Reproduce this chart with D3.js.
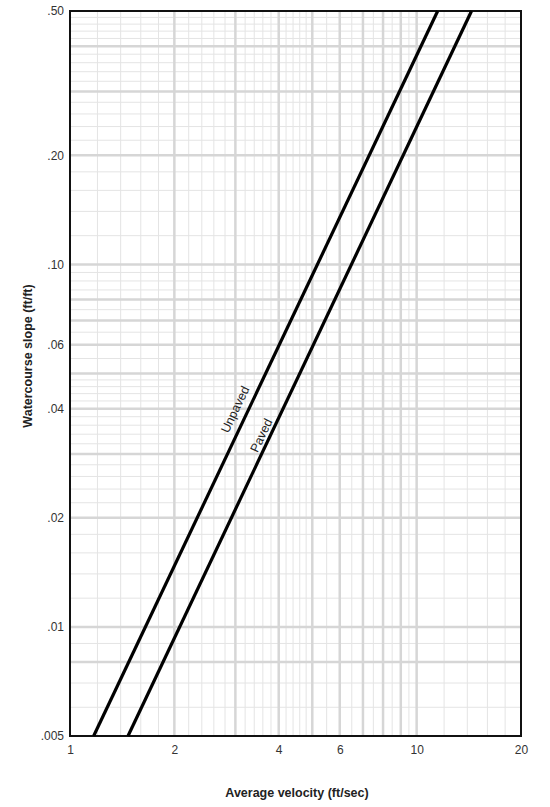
<!DOCTYPE html>
<html>
<head>
<meta charset="utf-8">
<script src="https://cdn.jsdelivr.net/npm/d3@7"></script>
<style>
    body { margin: 0; background: white; }
    text { font-family: Helvetica, Arial, 'Liberation Sans', sans-serif; }
</style>
</head>
<body>
<div class="chart"></div>
<script>
// values
const slopeEnds = [0.005, 0.5]
const unpavedVelocity = [1.17, 11.5]
const pavedVelocity = [1.47, 14.4]

const xTickValues = [1, 2, 4, 6, 10, 20]
const yTickValues = [0.5, 0.2, 0.1, 0.06, 0.04, 0.02, 0.01, 0.005]
const yTickLabels = ['.50', '.20', '.10', '.06', '.04', '.02', '.01', '.005']

// graph paper rulings
const xMinorGrid = [...d3.range(1.2, 1.99, 0.2), ...d3.range(2.2, 4.99, 0.2),
    ...d3.range(5.5, 9.99, 0.5), ...d3.range(12, 19.9, 2)]
const xMajorGrid = [2, 3, 4, 5, 6, 7, 8, 9, 10]
const yMinorGrid = [...d3.range(0.006, 0.00999, 0.001), ...d3.range(0.012, 0.0499, 0.002),
    ...d3.range(0.055, 0.0999, 0.005), ...d3.range(0.12, 0.499, 0.02)]
const yMajorGrid = [0.008, 0.01, 0.02, 0.03, 0.04, 0.05, 0.06, 0.07, 0.08, 0.1, 0.2, 0.3, 0.4]

const svg = d3.select('.chart')
    .append('svg')
        .attr('width', 550)
        .attr('height', 807)

const x = d3.scaleLog().domain([1, 20]).range([70, 521])
const y = d3.scaleLog().domain([0.005, 0.5]).range([736, 11])

const grid = svg.append('g').attr('id', 'grid')

const drawGrid = (xs, ys, color, width) => {
    grid.append('g').selectAll('line')
        .data(xs)
        .enter()
        .append('line')
            .attr('x1', (d) => x(d))
            .attr('x2', (d) => x(d))
            .attr('y1', y.range()[0])
            .attr('y2', y.range()[1])
            .style('stroke', color)
            .style('stroke-width', width)
    grid.append('g').selectAll('line')
        .data(ys)
        .enter()
        .append('line')
            .attr('y1', (d) => y(d))
            .attr('y2', (d) => y(d))
            .attr('x1', x.range()[0])
            .attr('x2', x.range()[1])
            .style('stroke', color)
            .style('stroke-width', width)
}
drawGrid(xMinorGrid, yMinorGrid, '#e4e4e4', 1)
drawGrid(xMajorGrid, yMajorGrid, '#d6d6d6', 2.5)

// frame
svg.append('rect')
    .attr('x', x.range()[0])
    .attr('y', y.range()[1])
    .attr('width', x.range()[1] - x.range()[0])
    .attr('height', y.range()[0] - y.range()[1])
    .style('fill', 'none')
    .style('stroke', '#111')
    .style('stroke-width', 2)

// axes, labels only
svg.append('g')
    .attr('transform', `translate(0, ${y.range()[0]})`)
    .call(d3.axisBottom(x)
        .tickValues(xTickValues)
        .tickSize(0)
        .tickPadding(9)
        .tickFormat(d3.format('d')))
svg.append('g')
    .attr('transform', `translate(${x.range()[0] - 6}, 0)`)
    .call(d3.axisLeft(y)
        .tickValues(yTickValues)
        .tickSize(0)
        .tickPadding(0)
        .tickFormat((d, i) => yTickLabels[i]))

svg.selectAll('.domain').remove()
svg.selectAll('.tick text')
    .style('font-family', 'Helvetica, Arial, "Liberation Sans", sans-serif')
    .style('font-size', '12px')
    .style('fill', '#333')

// the two lines
const line = d3.line()
    .x((d) => x(d[0]))
    .y((d) => y(d[1]))

const series = [
    { name: 'Unpaved', points: d3.zip(unpavedVelocity, slopeEnds), labelAt: 0.0385, offset: -8 },
    { name: 'Paved', points: d3.zip(pavedVelocity, slopeEnds), labelAt: 0.033, offset: -4 },
]

svg.append('g')
    .selectAll('path')
    .data(series)
    .enter()
    .append('path')
        .attr('d', (d) => line(d.points))
        .style('fill', 'none')
        .style('stroke', '#000')
        .style('stroke-width', 3.2)

// labels along the lines
series.forEach((s) => {
    const [p0, p1] = s.points
    const angle = Math.atan2(y(p1[1]) - y(p0[1]), x(p1[0]) - x(p0[0])) * 180 / Math.PI
    // velocity on the line at the label's slope
    const t = Math.log(s.labelAt / p0[1]) / Math.log(p1[1] / p0[1])
    const v = p0[0] * Math.pow(p1[0] / p0[0], t)
    svg.append('text')
        .attr('transform', `translate(${x(v)}, ${y(s.labelAt)}) rotate(${angle})`)
        .attr('dy', s.offset)
        .attr('text-anchor', 'middle')
        .style('font-size', '12.5px')
        .style('fill', '#222')
        .text(s.name)
})

// axis titles
svg.append('text')
    .attr('x', 297)
    .attr('y', 797)
    .attr('text-anchor', 'middle')
    .style('font-size', '12.5px')
    .style('font-weight', 'bold')
    .style('fill', '#222')
    .text('Average velocity (ft/sec)')

svg.append('text')
    .attr('transform', 'translate(32, 356) rotate(-90)')
    .attr('text-anchor', 'middle')
    .style('font-size', '12.5px')
    .style('font-weight', 'bold')
    .style('fill', '#222')
    .text('Watercourse slope (ft/ft)')
</script>
</body>
</html>
